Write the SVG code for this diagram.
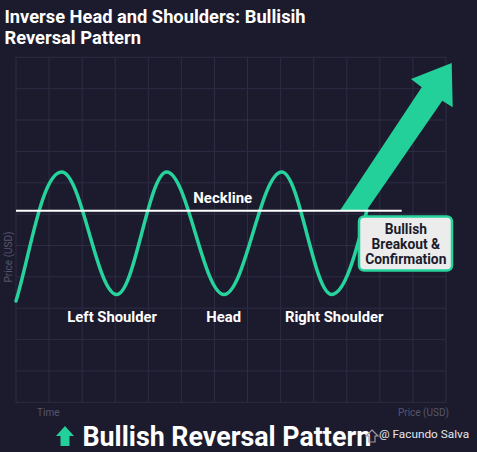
<svg xmlns="http://www.w3.org/2000/svg" width="477" height="452" viewBox="0 0 477 452">
<defs>
<style>
.bg{fill:#1c1b2e}
.grid line{stroke:#2d2c43;stroke-width:1}
.t{font-family:Roboto,"Liberation Sans",sans-serif;font-weight:bold;fill:#ffffff}
.ax{font-family:Roboto,"Liberation Sans",sans-serif;font-size:10px;fill:#55566b}
.wave{fill:none;stroke:#26d39c;stroke-width:3.5;stroke-linecap:round}
.green{fill:#24d09a}
.dk{fill:#1b1b2b}
</style>
</defs>
<rect class="bg" x="0" y="0" width="477" height="452"/>
<g id="grid" class="grid">
<line x1="16" y1="57.3" x2="16" y2="402.3"/>
<line x1="49.1" y1="57.3" x2="49.1" y2="402.3"/>
<line x1="82.2" y1="57.3" x2="82.2" y2="402.3"/>
<line x1="115.2" y1="57.3" x2="115.2" y2="402.3"/>
<line x1="148.3" y1="57.3" x2="148.3" y2="402.3"/>
<line x1="181.4" y1="57.3" x2="181.4" y2="402.3"/>
<line x1="214.5" y1="57.3" x2="214.5" y2="402.3"/>
<line x1="247.5" y1="57.3" x2="247.5" y2="402.3"/>
<line x1="280.6" y1="57.3" x2="280.6" y2="402.3"/>
<line x1="313.7" y1="57.3" x2="313.7" y2="402.3"/>
<line x1="346.8" y1="57.3" x2="346.8" y2="402.3"/>
<line x1="379.8" y1="57.3" x2="379.8" y2="402.3"/>
<line x1="412.9" y1="57.3" x2="412.9" y2="402.3"/>
<line x1="446" y1="57.3" x2="446" y2="402.3"/>
<line x1="16" y1="57.3" x2="446" y2="57.3"/>
<line x1="16" y1="88.7" x2="446" y2="88.7"/>
<line x1="16" y1="120" x2="446" y2="120"/>
<line x1="16" y1="151.4" x2="446" y2="151.4"/>
<line x1="16" y1="182.8" x2="446" y2="182.8"/>
<line x1="16" y1="214.1" x2="446" y2="214.1"/>
<line x1="16" y1="245.5" x2="446" y2="245.5"/>
<line x1="16" y1="276.8" x2="446" y2="276.8"/>
<line x1="16" y1="308.2" x2="446" y2="308.2"/>
<line x1="16" y1="339.6" x2="446" y2="339.6"/>
<line x1="16" y1="370.9" x2="446" y2="370.9"/>
<line x1="16" y1="402.3" x2="446" y2="402.3"/>
</g>
<g id="title">
<text class="t" x="4.5" y="23" font-size="18.3">Inverse Head and Shoulders: Bullisih</text>
<text class="t" x="4.5" y="43.5" font-size="18.3">Reversal Pattern</text>
</g>
<g id="axes">
<text class="ax" x="37" y="416">Time</text>
<text class="ax" x="449" y="416" text-anchor="end">Price (USD)</text>
<text class="ax" transform="translate(11.5,257) rotate(-90)" text-anchor="middle">Price (USD)</text>
</g>
<g id="connectors">
<path id="price-wave" class="wave" d="M16,301 C30,255 42,172 61.7,172 C81.5,172 96.9,294.5 116.7,294.5 C134.7,294.5 148.7,172 166.7,172 C187.3,172 203.4,294.5 224,294.5 C244.8,294.5 260.9,172 281.7,172 C299.7,172 313.7,294.5 331.7,294.5 C345,294.5 356,252 367,210"/>
<polygon id="breakout-arrow" class="green" points="340,210.5 421.7,87.3 411,79 451.7,63 452.7,107.3 442.3,100.7 366.5,210.5"/>
</g>
<g id="neckline">
<line x1="16" y1="210.7" x2="401.7" y2="210.7" stroke="#ffffff" stroke-width="2"/>
<text class="t" x="222.7" y="202.7" font-size="15" text-anchor="middle">Neckline</text>
</g>
<g id="left-shoulder">
<text class="t" x="112.2" y="321.7" font-size="14.8" text-anchor="middle">Left Shoulder</text>
</g>
<g id="head">
<text class="t" x="223.7" y="321.7" font-size="14.8" text-anchor="middle">Head</text>
</g>
<g id="right-shoulder">
<text class="t" x="334.2" y="321.7" font-size="14.8" text-anchor="middle">Right Shoulder</text>
</g>
<g id="breakout-box">
<rect x="359" y="216.5" width="93" height="54" rx="5" fill="#ececec" stroke="#26d39c" stroke-width="2.5"/>
<text class="t dk" x="405.8" y="233.5" font-size="13.8" text-anchor="middle">Bullish</text>
<text class="t dk" x="405.8" y="248.5" font-size="13.8" text-anchor="middle">Breakout &amp;</text>
<text class="t dk" x="405.8" y="263.5" font-size="13.8" text-anchor="middle">Confirmation</text>
</g>
<g id="footer">
<polygon class="green" points="65,426 74,436 69.5,436 69.5,446 60.5,446 60.5,436 56,436"/>
<text class="t" x="82.5" y="446" font-size="26.8">Bullish Reversal Pattern</text>
<path d="M372,430 L378,436 L375,436 L375,442 L369,442 L369,436 L366,436 Z" fill="none" stroke="#9a9aa6" stroke-width="1.2"/>
<text x="379" y="437.5" font-family="Roboto,'Liberation Sans',sans-serif" font-size="11.8" fill="#e6e6ea">@ Facundo Salva</text>
</g>
</svg>
